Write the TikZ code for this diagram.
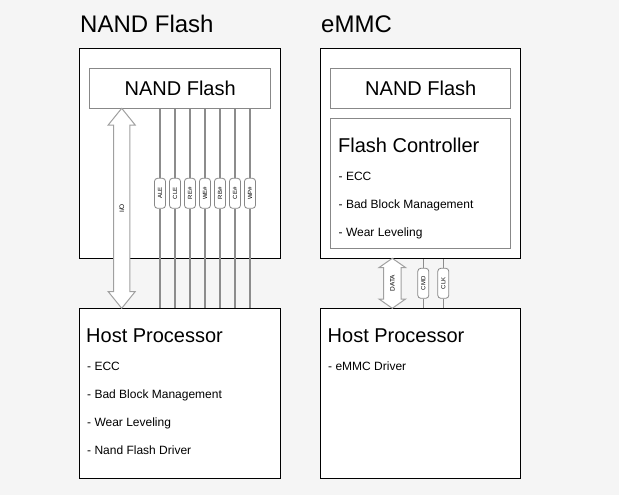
\documentclass[tikz,border=0pt]{standalone}
\usepackage{fontspec}
\setmainfont{Liberation Sans}
\usetikzlibrary{calc}

\definecolor{bggray}{HTML}{F5F5F5}
\definecolor{boxgray}{HTML}{888888}
\definecolor{wiregray}{HTML}{8C8C8C}

\tikzset{
  chip/.style={draw=black, line width=1pt, fill=white, anchor=north west, inner sep=0pt},
  part/.style={draw=boxgray, line width=1pt, fill=white, anchor=north west, inner sep=0pt,
    font=\fontsize{20}{24}\selectfont},
  heading/.style={anchor=base west, inner sep=0pt, font=\fontsize{24}{28}\selectfont},
  subhead/.style={anchor=base west, inner sep=0pt, font=\fontsize{20}{24}\selectfont},
  item/.style={anchor=base west, inner sep=0pt, font=\fontsize{12}{14}\selectfont},
  busline/.style={draw=boxgray!80, fill=white, line width=1pt, line join=miter},
  buslabel/.style={rotate=90, inner sep=0pt, font=\fontsize{6.5}{7}\selectfont},
  pin/.style={draw=boxgray, fill=white, line width=0.8pt, rounded corners=3pt, rotate=90,
    minimum width=30pt, minimum height=11pt, inner sep=0pt, font=\fontsize{6}{7}\selectfont},
  wire/.style={draw=wiregray, line width=1.6pt}
}

\begin{document}
\begin{tikzpicture}[x=1pt,y=1pt]
  \fill[bggray] (0,0) rectangle (619,-495);
  \useasboundingbox (0,0) rectangle (619,-495);

  % NAND Flash side
  \node[heading] (titleL) at (80,-32.3) {NAND Flash};
  \node[chip, minimum width=200.4pt, minimum height=209.4pt] (chipL) at (79.3,-48.3) {};
  \node[part, minimum width=180.7pt, minimum height=40pt] (flashL) at (89.3,-68.3) {NAND Flash};
  \node[chip, minimum width=200.4pt, minimum height=169.7pt] (hostL) at (79.3,-308.3) {};
  \node[subhead] (hostLtitle) at (86,-342.5) {Host Processor};
  \node[item] (hostLecc) at (87,-370.7) {- ECC};
  \node[item] (hostLbbm) at (87,-398.7) {- Bad Block Management};
  \node[item] (hostLwl) at (87,-426.7) {- Wear Leveling};
  \node[item] (hostLdrv) at (87,-454.3) {- Nand Flash Driver};

  % eMMC side
  \node[heading] (titleR) at (321,-32.3) {eMMC};
  \node[chip, minimum width=200pt, minimum height=210pt] (chipR) at (320.3,-48.3) {};
  \node[part, minimum width=180pt, minimum height=40pt] (flashR) at (330.3,-68.3) {NAND Flash};
  \node[part, minimum width=180pt, minimum height=130pt] (ctrl) at (330.3,-118.3) {};
  \node[subhead] (ctrltitle) at (338,-152.3) {Flash Controller};
  \node[item] (ctrlecc) at (338.5,-180.7) {- ECC};
  \node[item] (ctrlbbm) at (338.5,-208.3) {- Bad Block Management};
  \node[item] (ctrlwl) at (338.5,-236.3) {- Wear Leveling};
  \node[chip, minimum width=200pt, minimum height=170pt] (hostR) at (320.3,-308.3) {};
  \node[subhead] (hostRtitle) at (327.5,-342.7) {Host Processor};
  \node[item] (hostRdrv) at (328,-370.7) {- eMMC Driver};

  % buses
  \coordinate (iotop) at (121.7,-108.3);
  \coordinate (iobot) at (iotop |- hostL.north);
  \draw[busline] (iotop) -- ($(iotop)+(13.5,-16.7)$) -- ($(iotop)+(8.2,-16.7)$)
    -- ($(iobot)+(8.2,16.7)$) -- ($(iobot)+(13.5,16.7)$) -- (iobot)
    -- ($(iobot)+(-13.5,16.7)$) -- ($(iobot)+(-8.2,16.7)$)
    -- ($(iotop)+(-8.2,-16.7)$) -- ($(iotop)+(-13.5,-16.7)$) -- cycle;
  \node[buslabel] (io) at ($(iotop)!0.5!(iobot)$) {I/O};

  \coordinate (datatop) at (392.3,-258.3);
  \coordinate (databot) at (datatop |- hostR.north);
  \draw[busline] (datatop) -- ($(datatop)+(13.3,-9.3)$) -- ($(datatop)+(8.8,-9.3)$)
    -- ($(databot)+(8.8,9.3)$) -- ($(databot)+(13.3,9.3)$) -- (databot)
    -- ($(databot)+(-13.3,9.3)$) -- ($(databot)+(-8.8,9.3)$)
    -- ($(datatop)+(-8.8,-9.3)$) -- ($(datatop)+(-13.3,-9.3)$) -- cycle;
  \node[buslabel] (data) at ($(datatop)!0.5!(databot)$) {DATA};

  % control lines
  \node[pin] (ale) at (160,-193.3) {ALE};
  \node[pin] (cle) at (175,-193.3) {CLE};
  \node[pin] (re) at (190,-193.3) {RE\#};
  \node[pin] (we) at (205,-193.3) {WE\#};
  \node[pin] (rb) at (220,-193.3) {RB\#};
  \node[pin] (ce) at (235,-193.3) {CE\#};
  \node[pin] (wp) at (250,-193.3) {WP\#};
  \node[pin] (cmd) at (423.3,-283.3) {CMD};
  \node[pin] (clk) at (443.3,-283.3) {CLK};
  \path[wire]
  (ale) edge (ale |- flashL.south) edge (ale |- hostL.north)
  (cle) edge (cle |- flashL.south) edge (cle |- hostL.north)
  (re) edge (re |- flashL.south) edge (re |- hostL.north)
  (we) edge (we |- flashL.south) edge (we |- hostL.north)
  (rb) edge (rb |- flashL.south) edge (rb |- hostL.north)
  (ce) edge (ce |- flashL.south) edge (ce |- hostL.north)
  (wp) edge (wp |- flashL.south) edge (wp |- hostL.north)
  (cmd) edge (cmd |- chipR.south) edge (cmd |- hostR.north)
  (clk) edge (clk |- chipR.south) edge (clk |- hostR.north)
  ;
\end{tikzpicture}
\end{document}
